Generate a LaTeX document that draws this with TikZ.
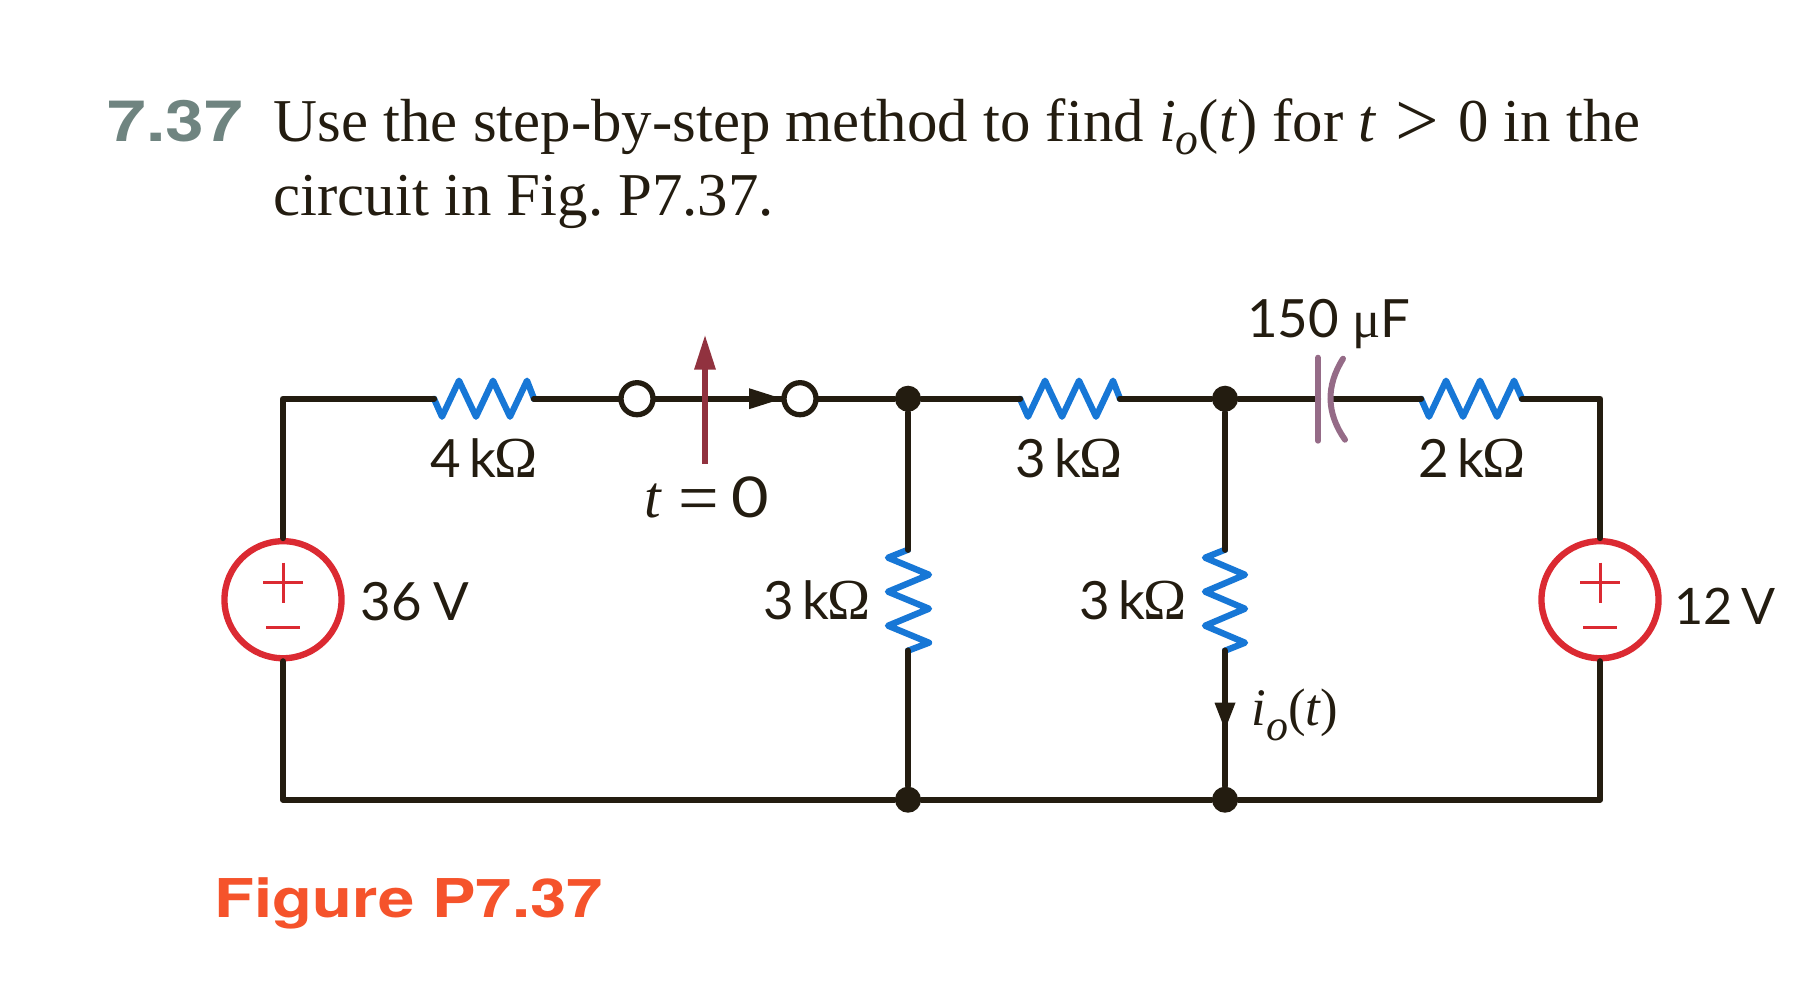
\documentclass[tikz,border=0pt]{standalone}
\usepackage{fontspec}
\setmainfont{Liberation Serif}
\newfontfamily\lab{Lato}
\newfontfamily\labw[FakeStretch=1.15]{Lato}
\newfontfamily\head[FakeStretch=1.22]{TeX Gyre Heros}
\newfontfamily\symf{Liberation Serif}
\frenchspacing
\definecolor{ink}{HTML}{231C10}
\definecolor{resblue}{HTML}{1777D6}
\definecolor{srcred}{HTML}{DB2A32}
\definecolor{swred}{HTML}{91323F}
\definecolor{capc}{HTML}{956B87}
\definecolor{numc}{HTML}{6F8480}
\definecolor{figc}{HTML}{F5532B}
\newcommand{\kO}[1]{{\lab #1\,k\kern-0.03em}{\symf\fontsize{16.5pt}{18pt}\selectfont\char"03A9}}
\tikzset{
 x=0.01cm,y=-0.01cm,
 wire/.style={draw=ink,line width=1.8pt,line cap=round,line join=round},
 res/.style={draw=resblue,line width=1.8pt,line join=round,line cap=round},
 srcc/.style={circle,draw=srcred,fill=white,line width=1.8pt,minimum size=1.17cm,inner sep=0pt},
 sign/.style={draw=srcred,line width=0.85pt},
 dot/.style={circle,fill=ink,inner sep=0pt,minimum size=0.26cm},
 term/.style={circle,draw=ink,fill=white,line width=1.5pt,inner sep=0pt,minimum size=0.32cm},
 lbl/.style={inner sep=0pt,font=\fontsize{15pt}{18pt}\selectfont,text=ink,anchor=base},
 para/.style={inner sep=0pt,font=\fontsize{17.3pt}{20pt}\selectfont,text=ink,anchor=base west},
 headf/.style={anchor=base west,inner sep=0pt,font=\head\bfseries},
}
\begin{document}
\begin{tikzpicture}
\useasboundingbox (0,0) rectangle (1819,1000);
\begin{scope}[yshift=-0.007cm]
\coordinate (tl) at (283,398);
\coordinate (bl) at (283,799);
\coordinate (tr) at (1600,398);
\coordinate (br) at (1600,799);
\coordinate (r1a) at (434,398);
\coordinate (r1b) at (534,398);
\coordinate (r2a) at (1020,398);
\coordinate (r2b) at (1120,398);
\coordinate (r3a) at (1421,398);
\coordinate (r3b) at (1522,398);
\coordinate (r4a) at (908,549);
\coordinate (r4b) at (908,650);
\coordinate (r5a) at (1225,549);
\coordinate (r5b) at (1225,650);
\coordinate (capw) at (1318,398);
\coordinate (cape) at (1331,398);
\node[srcc] (s1) at (283,599) {};
\node[srcc] (s2) at (1600,599) {};
\node[term] (t1) at (637,398) {};
\node[term] (t2) at (800,398) {};
\node[dot] (j1) at (908,398) {};
\node[dot] (j2) at (1225,398) {};
\node[dot] (j3) at (908,799) {};
\node[dot] (j4) at (1225,799) {};
\draw[wire] (s1) -- (tl) -- (r1a);
\draw[wire] (r1b) -- (t1);
\draw[wire] (t1) -- (t2);
\draw[wire] (t2) -- (j1);
\draw[wire] (j1) -- (r2a);
\draw[wire] (r2b) -- (j2);
\draw[wire] (j2) -- (capw);
\draw[wire] (cape) -- (r3a);
\draw[wire] (r3b) -- (tr) -- (s2);
\draw[wire] (s1) -- (bl) -- (j3);
\draw[wire] (j3) -- (j4);
\draw[wire] (j4) -- (br) -- (s2);
\draw[wire] (j1) -- (r4a);
\draw[wire] (r4b) -- (j3);
\draw[wire] (j2) -- (r5a);
\draw[wire] (r5b) -- (j4);
\draw[res] (434,398) -- (442,416) -- (459,380) -- (476,416) -- (493,380) -- (510,416) -- (527,380) -- (534,398);
\draw[res] (1020,398) -- (1028,416) -- (1045,380) -- (1062,416) -- (1079,380) -- (1096,416) -- (1113,380) -- (1120,398);
\draw[res] (1421,398) -- (1429,416) -- (1446,380) -- (1463,416) -- (1480,380) -- (1497,416) -- (1514,380) -- (1522,398);
\draw[res] (908,549) -- (888,557) -- (929,574) -- (888,591) -- (929,608) -- (888,625) -- (929,642) -- (908,650);
\draw[res] (1225,549) -- (1205,557) -- (1245,574) -- (1205,591) -- (1245,608) -- (1205,625) -- (1245,642) -- (1225,650);
\draw[wire] (r1a) -- +(-3,0);
\draw[wire] (r1b) -- +(3,0);
\draw[wire] (r2a) -- +(-3,0);
\draw[wire] (r2b) -- +(3,0);
\draw[wire] (r3a) -- +(-3,0);
\draw[wire] (r3b) -- +(3,0);
\draw[wire] (r4a) -- +(0,-3);
\draw[wire] (r4b) -- +(0,3);
\draw[wire] (r5a) -- +(0,-3);
\draw[wire] (r5b) -- +(0,3);
\draw[draw=capc,line width=1.7pt,line cap=round] (1318,357) -- (1318,440);
\draw[draw=capc,line width=1.7pt,line cap=round] (1343,358) .. controls (1326,385) and (1326,412) .. (1345,439);
\fill[ink] (782,398) -- (749,387.5) -- (749,408.5) -- cycle;
\draw[draw=swred,line width=1.45pt] (705,463) -- (705,368);
\fill[swred] (705,335) -- (694,369) -- (716,369) -- cycle;
\fill[ink] (1225,729) -- (1214.5,702) -- (1235.5,702) -- cycle;
\draw[sign] (263,582) -- (303,582);
\draw[sign] (283,562) -- (283,602);
\draw[sign] (266,627) -- (300,627);
\draw[sign] (1580,582) -- (1620,582);
\draw[sign] (1600,562) -- (1600,602);
\draw[sign] (1583,627) -- (1617,627);
\end{scope}
\node[lbl] (l1) at (484,477) {\kO{4}};
\node[lbl] (l2) at (1069,477) {\kO{3}};
\node[lbl] (l3) at (1472,477) {\kO{2}};
\node[lbl] (l4) at (817,619) {\kO{3}};
\node[lbl] (l5) at (1133,619) {\kO{3}};
\node[lbl] (l6) at (415,620) {\lab 36\kern-0.04em{} V};
\node[lbl] (l7) at (1725,624) {\lab\fontsize{14.3pt}{18pt}\selectfont 12\kern-1pt{} V};
\node[lbl] (l8) at (1329,337) {\lab 150 {\symf\char"03BC}F};
\node[lbl] (l9) at (707,517) {{\symf\itshape\fontsize{17pt}{18pt}\selectfont t}\kern5pt\raisebox{-1.5pt}{\symf\fontsize{20.5pt}{24pt}\selectfont =}\kern3.5pt{\labw\fontsize{16pt}{18pt}\selectfont 0}};
\node[lbl,anchor=base west] (l10) at (1251,725) {\symf\itshape i\raisebox{-0.65ex}{\fontsize{12.5pt}{12pt}\selectfont o}{\upshape(}t{\upshape)}};
\node[para] (p1) at (273,141) {Use the step-by-step method to find \textit{i}\raisebox{-0.5ex}{\fontsize{13pt}{12pt}\selectfont\textit{o}}(\textit{t}) for \textit{t}\kern1pt{} \raisebox{-1.5pt}{\fontsize{22pt}{22pt}\selectfont >}\kern1pt{} 0 in the};
\node[para] (p2) at (273,215) {circuit in Fig. P7.37.};
\node[headf,text=numc,font=\head\bfseries\fontsize{16.2pt}{18pt}\selectfont] (n) at (107,141.5) {7.37};
\node[headf,text=figc,font=\head\bfseries\fontsize{15.2pt}{18pt}\selectfont] (f) at (214,917) {Figure P7.37};
\end{tikzpicture}
\end{document}
